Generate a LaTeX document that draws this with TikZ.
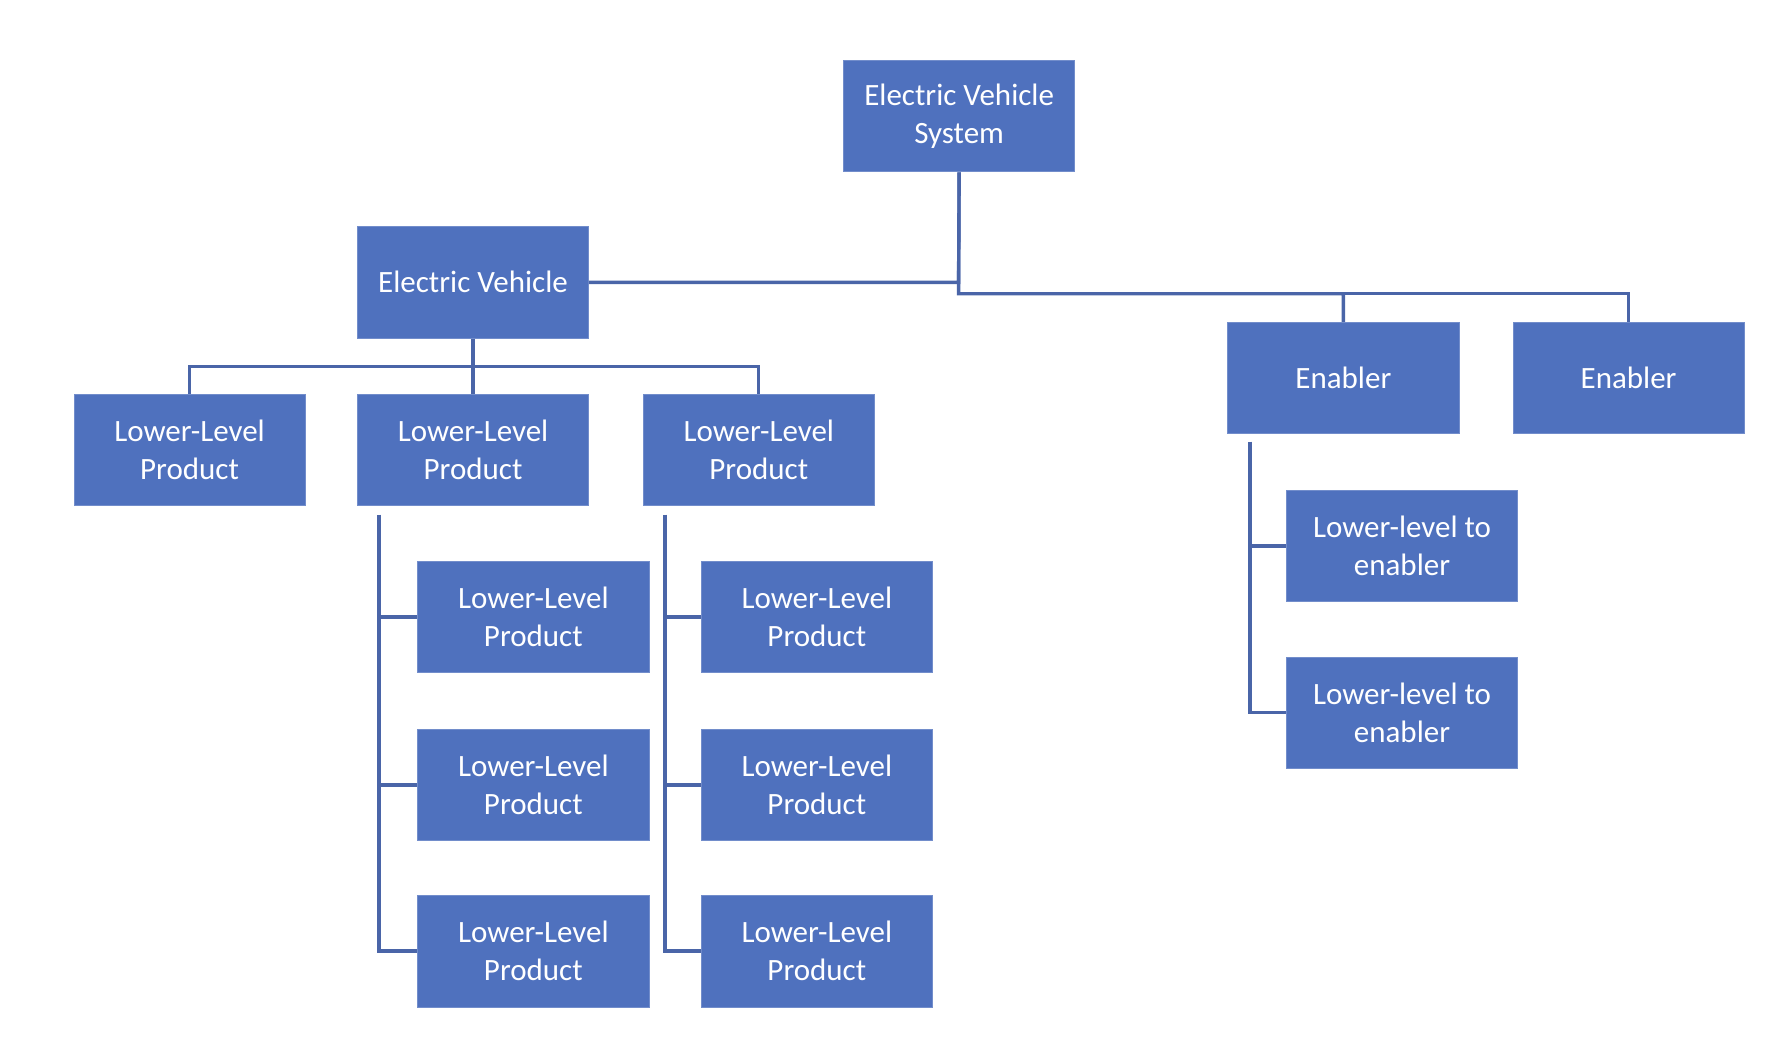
\documentclass[tikz,border=0pt]{standalone}
\usepackage{fontspec}
\setmainfont{Carlito}
\definecolor{boxblue}{HTML}{4F71BE}
\definecolor{linkblue}{HTML}{4A65A8}
\begin{document}
\begin{tikzpicture}[x=0.02cm,y=-0.02cm,
    box/.style={fill=boxblue,draw=boxblue!80!white,minimum width=4.06cm,minimum height=1.96cm,
        inner sep=0pt,text=white,align=center,font=\fontsize{15.5}{19}\selectfont},
    link/.style={draw=linkblue,line width=1.7pt}]
        % Set page size
        \useasboundingbox (0,0) rectangle (1560,926);

        % Top level
        \node[box] (evs) at (842.5,102) {Electric Vehicle\\System};
        \node[box] (ev) at (415.5,248) {Electric Vehicle};
        \node[box] (en1) at (1180,332) {Enabler};
        \node[box] (en2) at (1430.5,332) {Enabler};

        % Products
        \node[box] (p1) at (166.5,395) {Lower-Level\\Product};
        \node[box] (p2) at (415.5,395) {Lower-Level\\Product};
        \node[box] (p3) at (666.5,395) {Lower-Level\\Product};
        \node[box] (p21) at (468.5,542) {Lower-Level\\Product};
        \node[box] (p22) at (468.5,689.5) {Lower-Level\\Product};
        \node[box] (p23) at (468.5,835.5) {Lower-Level\\Product};
        \node[box] (p31) at (717.5,542) {Lower-Level\\Product};
        \node[box] (p32) at (717.5,689.5) {Lower-Level\\Product};
        \node[box] (p33) at (717.5,835.5) {Lower-Level\\Product};
        \node[box] (e11) at (1231.5,479.5) {Lower-level to\\enabler};
        \node[box] (e12) at (1231.5,626) {Lower-level to\\enabler};

        % Connectors
        \draw[link] (evs.south) -- (842,248) -- (ev.east);
        \draw[link] (evs.south) -- (842,258) -| (en1.north);
        \draw[link] (842,258) -| (en2.north);
        \draw[link] (ev.south) -- (415.5,322) -| (p1.north);
        \draw[link] (415.5,322) -| (p3.north);
        \draw[link] (415.5,322) -- (p2.north);

        % Side trunks
        \draw[link] (333,452) |- (p23.west);
        \draw[link] (333,542) -- (p21.west);
        \draw[link] (333,689.5) -- (p22.west);
        \draw[link] (584,452) |- (p33.west);
        \draw[link] (584,542) -- (p31.west);
        \draw[link] (584,689.5) -- (p32.west);
        \draw[link] (1098,388) |- (e12.west);
        \draw[link] (1098,479.5) -- (e11.west);
\end{tikzpicture}
\end{document}
